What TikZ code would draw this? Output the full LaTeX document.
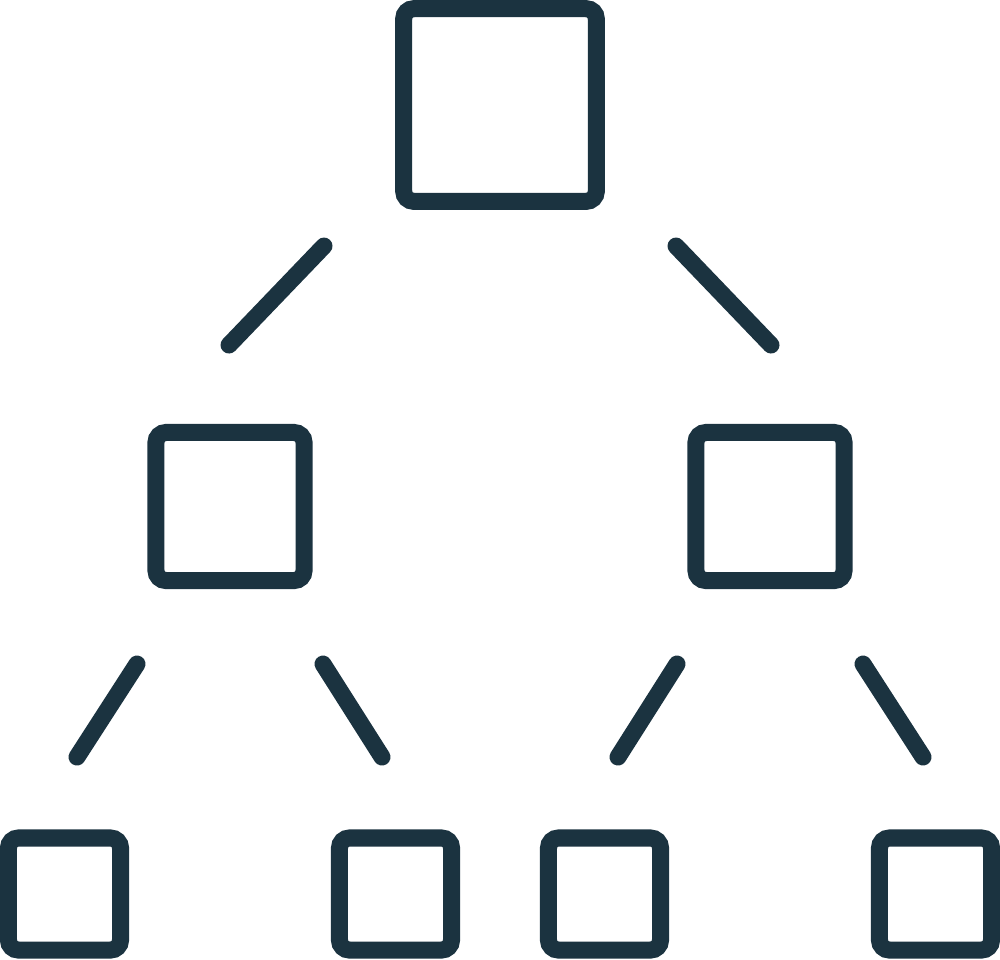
\documentclass[tikz,border=0pt]{standalone}
\definecolor{ink}{RGB}{27,51,64}
\tikzset{
  tile/.style={draw=ink, line width=0.17cm, rounded corners=0.1cm, inner sep=0pt, minimum width=#1, minimum height=#1},
  link/.style={draw=ink, line width=0.17cm, line cap=round}
}
\begin{document}
\begin{tikzpicture}[x=0.01cm,y=-0.01cm]
\useasboundingbox (0,0) rectangle (1000,959);
% boxes
\node[tile=1.925cm] (top) at (500,105) {};
\node[tile=1.48cm] (ml) at (230,506.5) {};
\node[tile=1.48cm] (mr) at (770,506.5) {};
\node[tile=1.12cm] (b1) at (64.5,894) {};
\node[tile=1.12cm] (b2) at (395.5,894) {};
\node[tile=1.12cm] (b3) at (604.5,894) {};
\node[tile=1.12cm] (b4) at (935.5,894) {};
% connector ends
\coordinate (t1) at (324,246);
\coordinate (l1) at (229,345);
\coordinate (t2) at (676,246);
\coordinate (r2) at (771,345);
\coordinate (ml1) at (137,664);
\coordinate (b1t) at (77,757);
\coordinate (ml2) at (323,664);
\coordinate (b2t) at (382,757);
\coordinate (mr1) at (677,664);
\coordinate (b3t) at (618,757);
\coordinate (mr2) at (863,664);
\coordinate (b4t) at (923,757);
\draw[link] (t1) -- (l1);
\draw[link] (t2) -- (r2);
\draw[link] (ml1) -- (b1t);
\draw[link] (ml2) -- (b2t);
\draw[link] (mr1) -- (b3t);
\draw[link] (mr2) -- (b4t);
\end{tikzpicture}
\end{document}
